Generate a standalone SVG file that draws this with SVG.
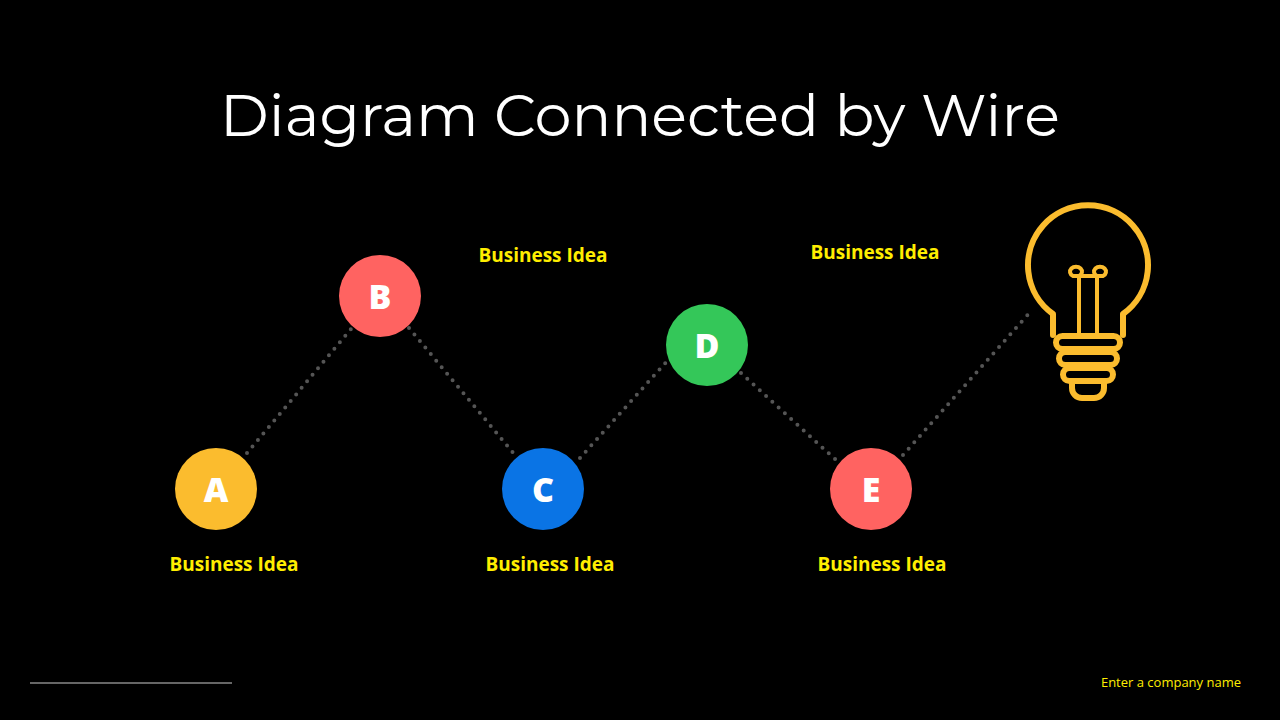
<svg xmlns="http://www.w3.org/2000/svg" width="1280" height="720" viewBox="0 0 1280 720">
<style>
.lbl{font-family:"Open Sans","Liberation Sans",sans-serif;font-weight:700;font-size:19px;fill:#FFEE00;text-anchor:middle}
.let{font-family:"Open Sans","Liberation Sans",sans-serif;font-weight:800;font-size:34px;fill:#fff;text-anchor:middle}
.wire{stroke:#555;stroke-width:4;stroke-linecap:round;stroke-dasharray:0 8.5;fill:none}
.bulb{stroke:#FBBC2E;stroke-width:6;fill:none;stroke-linecap:round;stroke-linejoin:round}
</style>
<rect width="1280" height="720" fill="#000"/>
<text x="640" y="136" font-family="Montserrat,'Open Sans','Liberation Sans',sans-serif" font-size="59" fill="#fff" text-anchor="middle">Diagram Connected by Wire</text>
<g id="connectors">
<line class="wire" x1="247" y1="453" x2="351" y2="329"/>
<line class="wire" x1="409" y1="328" x2="515" y2="455"/>
<line class="wire" x1="580" y1="458" x2="668" y2="360"/>
<line class="wire" x1="741" y1="373" x2="836" y2="460"/>
<line class="wire" x1="903" y1="455" x2="1032" y2="310"/>
</g>
<g id="A"><circle cx="216" cy="489" r="41" fill="#FBBC2E"/><text class="let" x="216" y="502">A</text><text class="lbl" x="234" y="571">Business Idea</text></g>
<g id="B"><circle cx="380" cy="296" r="41" fill="#FF6361"/><text class="let" x="380" y="309">B</text><text class="lbl" x="543" y="262">Business Idea</text></g>
<g id="C"><circle cx="543" cy="489" r="41" fill="#0A74E5"/><text class="let" x="543" y="502">C</text><text class="lbl" x="550" y="571">Business Idea</text></g>
<g id="D"><circle cx="707" cy="345" r="41" fill="#34C759"/><text class="let" x="707" y="358">D</text><text class="lbl" x="875" y="259">Business Idea</text></g>
<g id="E"><circle cx="871" cy="489" r="41" fill="#FF6361"/><text class="let" x="871" y="502">E</text><text class="lbl" x="882" y="571">Business Idea</text></g>
<g id="bulb" class="bulb">
<path d="M1053,335 V314 A60,60 0 1 1 1123,314 V335"/>
<rect x="1056" y="336" width="64" height="13" rx="6.5"/>
<rect x="1059" y="352" width="58" height="13" rx="6.5"/>
<rect x="1063" y="368" width="50" height="13" rx="6.5"/>
<path d="M1072,384 V388 A10,10 0 0 0 1082,398 H1094 A10,10 0 0 0 1104,388 V384"/>
<path d="M1079,335 V276 A6,5 0 1 0 1073,276 H1103 A6,5 0 1 0 1097,276 V335" stroke-width="4"/>
</g>
<line x1="30" y1="683" x2="232" y2="683" stroke="#ccc" stroke-width="1"/>
<text x="1241" y="687" font-family="'Open Sans','Liberation Sans',sans-serif" font-size="13" fill="#FFEE00" text-anchor="end">Enter a company name</text>
</svg>
